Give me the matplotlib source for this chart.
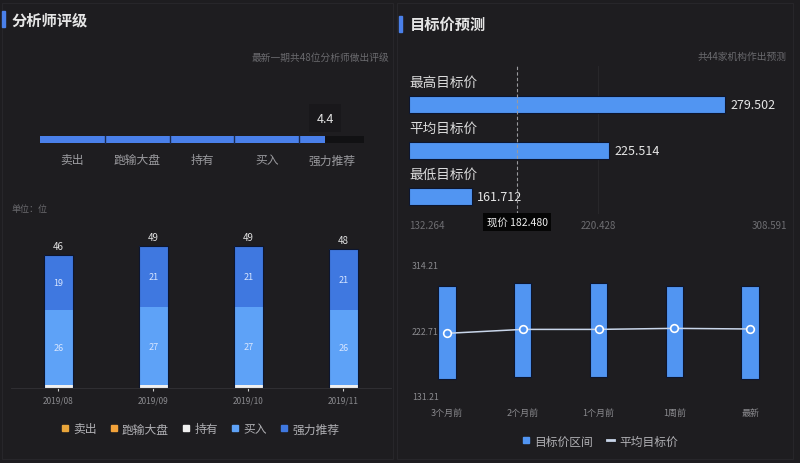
import numpy as np
import matplotlib
matplotlib.use('Agg')
import matplotlib.pyplot as plt
from matplotlib.lines import Line2D
from matplotlib.patches import Rectangle

plt.rcParams['font.family'] = ['Noto Sans CJK SC', 'DejaVu Sans']

# ---- data ----
rating_levels = ['卖出', '跑输大盘', '持有', '买入', '强力推荐']
rating_score = 4.4
analyst_note = '最新一期共48位分析师做出评级'

months = ['2019/08', '2019/09', '2019/10', '2019/11']
n_sell = [0, 0, 0, 0]
n_under = [0, 0, 0, 0]
n_hold = [1, 1, 1, 1]
n_buy = [26, 27, 27, 26]
n_strong = [19, 21, 21, 21]

target_names = ['最高目标价', '平均目标价', '最低目标价']
target_values = [279.502, 225.514, 161.712]
price_now = 182.480
price_ticks = [132.264, 220.428, 308.591]
inst_note = '共44家机构作出预测'

periods = ['3个月前', '2个月前', '1个月前', '1周前', '最新']
range_high = [280.3, 283.7, 283.3, 280.3, 279.502]
range_low = [162.1, 165.0, 164.4, 164.6, 161.712]
range_mean = [220.0, 225.0, 225.0, 226.3, 225.514]
range_ticks = [131.21, 222.71, 314.21]

# ---- style ----
BG = '#1e1d20'
FRAME = '#28272b'
BLUE = '#4a80ea'
LIGHT = '#5ea2f7'
STRONG = '#3f78e0'
BARBLUE = '#5195f2'
ORANGE = '#e9a53a'
GRAY = '#8a8a8e'
EDGE = '#0c1630'

W, H = 800, 464
fig = plt.figure(figsize=(8, 4.64), dpi=100, facecolor=BG)


def px_axes(x0, y0, x1, y1):
    ax = fig.add_axes([x0 / W, 1 - y1 / H, (x1 - x0) / W, (y1 - y0) / H])
    ax.set_facecolor('none')
    return ax


# background layer with titles and frames
bg = fig.add_axes([0, 0, 1, 1])
bg.set_xlim(0, W)
bg.set_ylim(H, 0)
bg.axis('off')
bg.add_patch(Rectangle((2, 4), 391, 456, fill=False, ec=FRAME, lw=0.7))
bg.add_patch(Rectangle((397, 4), 396, 456, fill=False, ec=FRAME, lw=0.7))
bg.add_patch(Rectangle((2, 12), 2.5, 16, color=BLUE))
bg.add_patch(Rectangle((399, 17), 2.5, 16, color=BLUE))
bg.text(12, 20, '分析师评级', color='#e6e6e6', fontsize=11, fontweight='bold', va='center')
bg.text(410, 25, '目标价预测', color='#e6e6e6', fontsize=11, fontweight='bold', va='center')
bg.text(389, 58, analyst_note, color='#6a6a6e', fontsize=7, ha='right', va='center')
bg.text(787, 57, inst_note, color='#6a6a6e', fontsize=7, ha='right', va='center')
bg.text(12, 210, '单位：位', color='#6a6a6e', fontsize=6.5, va='center')

# ---- rating bar ----
ax_r = px_axes(40, 110, 364, 160)
ax_r.set_xlim(0, len(rating_levels))
ax_r.set_ylim(1.0, -1.6)
ax_r.axis('off')
ax_r.barh(0, len(rating_levels), height=0.36, left=0, color='#111113')
ax_r.barh(0, rating_score, height=0.36, left=0, color=BLUE)
for i in range(1, len(rating_levels)):
    if i < rating_score:
        ax_r.plot([i, i], [-0.18, 0.18], color='#1a2a50', lw=1)
for i, lab in enumerate(rating_levels):
    ax_r.text(i + 0.5, 1.05, lab, color='#9a9a9e', fontsize=8.5, ha='center', va='center',
              transform=ax_r.transData, clip_on=False)
ax_r.text(rating_score, -1.12, f'{rating_score}', color='#e0e0e0', fontsize=9,
          ha='center', va='center',
          bbox=dict(boxstyle='square,pad=0.6', fc='#19181b', ec='none'))

# ---- stacked bars ----
ax_s = px_axes(11, 215, 391, 389.3)
x = np.arange(len(months))
bw = 0.305
b0 = np.zeros(len(months))
series = [(n_sell, ORANGE, '卖出'), (n_under, '#f2a23a', '跑输大盘'),
          (n_hold, '#f0f0f0', '持有'), (n_buy, LIGHT, '买入'),
          (n_strong, STRONG, '强力推荐')]
for vals, col, lab in series:
    vals = np.array(vals, dtype=float)
    ax_s.bar(x, vals, bw, bottom=b0, color=col, lw=0, zorder=2)
    for xi, v, b in zip(x, vals, b0):
        if v >= 5:
            ax_s.text(xi, b + v / 2, f'{int(v)}', color='#d8e6ff', fontsize=6.5,
                      ha='center', va='center', zorder=3)
    b0 = b0 + vals
totals = b0
ax_s.bar(x, totals, bw, fill=False, ec=EDGE, lw=0.8, zorder=3)
for xi, t in zip(x, totals):
    ax_s.text(xi, t + 1.2, f'{int(t)}', color='#e0e0e0', fontsize=7, ha='center', va='bottom')
ax_s.set_xlim(-0.5, len(months) - 0.5)
ax_s.set_ylim(0, 60)
ax_s.set_yticks([])
for s in ['top', 'right', 'left']:
    ax_s.spines[s].set_visible(False)
ax_s.spines['bottom'].set_color('#333236')
ax_s.spines['bottom'].set_linewidth(0.6)
ax_s.set_xticks(x, months)
ax_s.tick_params(axis='x', length=2, color='#cccccc', labelsize=6, labelcolor=GRAY, pad=3)

handles = [Line2D([], [], marker='s', ls='none', color=c, markersize=4.5) for _, c, _ in series]
fig.legend(handles, [s[2] for s in series], ncol=5, loc='center',
           bbox_to_anchor=(200 / W, 1 - 430 / H), frameon=False, fontsize=8.5,
           labelcolor='#b0b0b4', handlelength=0.7, handletextpad=0.35, columnspacing=1.1)

# ---- target price bars ----
ax_t = px_axes(409.3, 66.7, 787.5, 215)
ax_t.set_xlim(price_ticks[0], price_ticks[-1])
ax_t.set_ylim(2.385, -0.84)
ax_t.axis('off')
for t in price_ticks[1:]:
    ax_t.axvline(t, color='#2a292d', lw=0.6, zorder=0)
yy = np.arange(len(target_names))
ax_t.barh(yy, np.array(target_values) - price_ticks[0], left=price_ticks[0], height=0.37,
          color=BARBLUE, ec=EDGE, lw=0.8, zorder=2)
for yi, name, v in zip(yy, target_names, target_values):
    ax_t.text(price_ticks[0], yi - 0.48, name, color='#dcdcdc', fontsize=9.8, ha='left', va='center')
    ax_t.text(v + 2.3, yi, f'{v:.3f}', color='#e6e6e6', fontsize=9, ha='left', va='center')
ax_t.axvline(price_now, color='#9a9a9e', lw=0.8, ls=(0, (3, 2)), zorder=3)
xt = ax_t.get_xaxis_transform()
ax_t.text(price_now, -0.054, f'现价 {price_now:.3f}', transform=xt, color='#f0f0f0',
          fontsize=7.5, ha='center', va='center',
          bbox=dict(boxstyle='square,pad=0.35', fc='#050505', ec='none'))
aligns = ['left', 'center', 'right']
for t, ha in zip(price_ticks, aligns):
    ax_t.text(t, -0.075, f'{t:.3f}', transform=xt, color='#6e6e72', fontsize=7,
              ha=ha, va='center')

# ---- target range chart ----
ax_g = px_axes(409, 260, 788, 404.4)
xp = np.arange(len(periods))
ax_g.bar(xp, np.array(range_high) - np.array(range_low), 0.23, bottom=range_low,
         color=BARBLUE, ec=EDGE, lw=0.8, zorder=2)
ax_g.plot(xp, range_mean, color='#c9d6ea', lw=1.1, marker='o', markersize=5.5,
          mfc=BARBLUE, mec='#ffffff', mew=1.2, zorder=3)
ax_g.set_xlim(-0.5, len(periods) - 0.5)
ax_g.set_ylim(range_ticks[0], range_ticks[-1])
ax_g.set_yticks([])
for s in ax_g.spines.values():
    s.set_visible(False)
ax_g.set_xticks(xp, periods)
ax_g.tick_params(axis='x', length=0, labelsize=6.5, labelcolor=GRAY, pad=3)
ay = ax_g.get_yaxis_transform()
vas = ['bottom', 'center', 'top']
offs = [3, 0, -3]
for t, va, o in zip(range_ticks, vas, offs):
    ax_g.text(0.008, t + o, f'{t:.2f}', transform=ay, color=GRAY, fontsize=6.3,
              ha='left', va=va, zorder=1)

h2 = [Line2D([], [], marker='s', ls='none', color=BARBLUE, markersize=4.5),
      Line2D([], [], color='#c9d6ea', lw=2)]
fig.legend(h2, ['目标价区间', '平均目标价'], ncol=2, loc='center',
           bbox_to_anchor=(600 / W, 1 - 442 / H), frameon=False, fontsize=8.5,
           labelcolor='#b0b0b4', handlelength=0.6, handletextpad=0.4, columnspacing=1.2)

fig.savefig('out.png', dpi=100, facecolor=BG)
